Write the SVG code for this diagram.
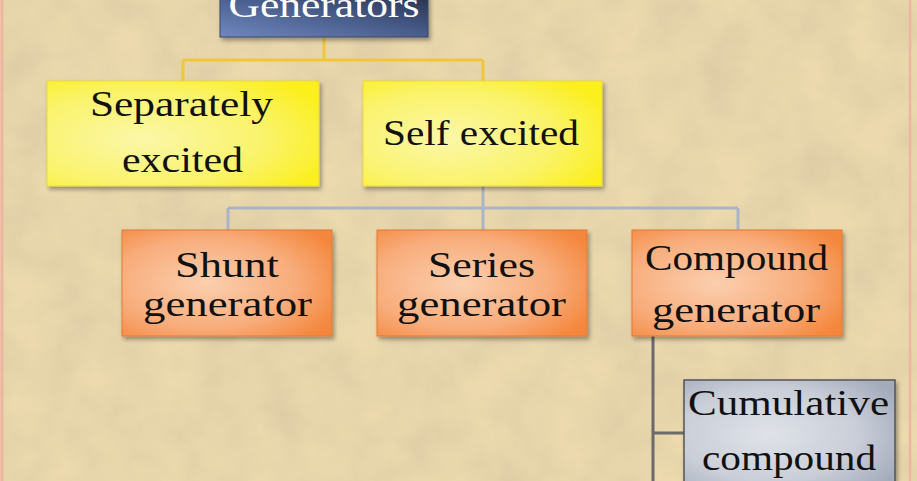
<svg xmlns="http://www.w3.org/2000/svg" width="917" height="481" viewBox="0 0 917 481">
<defs>
<style>
.t{font-family:"Liberation Serif","Times New Roman",serif;font-size:35px;fill:#111;text-anchor:middle}
.tw{fill:#ffffff}
.box{filter:url(#sh)}
</style>
<filter id="sh" x="-10%" y="-10%" width="125%" height="130%">
<feDropShadow dx="2" dy="3" stdDeviation="2" flood-color="#000" flood-opacity="0.35"/>
</filter>
<filter id="paper" x="0" y="0" width="100%" height="100%">
<feTurbulence type="fractalNoise" baseFrequency="0.02" numOctaves="4" seed="3" result="n"/>
<feColorMatrix in="n" type="matrix" values="0 0 0 0 0.55  0 0 0 0 0.45  0 0 0 0 0.3  0 0 0 0.55 -0.15"/>
</filter>
<linearGradient id="gBlue" x1="0" y1="1" x2="1" y2="0">
<stop offset="0" stop-color="#7088c0"/>
<stop offset="0.5" stop-color="#4a5f8e"/>
<stop offset="1" stop-color="#26324f"/>
</linearGradient>
<radialGradient id="gYel" cx="0.35" cy="0.55" r="0.75">
<stop offset="0" stop-color="#fbf7a8"/>
<stop offset="0.6" stop-color="#faf36a"/>
<stop offset="1" stop-color="#fbef1a"/>
</radialGradient>
<radialGradient id="gOr" cx="0.4" cy="0.5" r="0.7">
<stop offset="0" stop-color="#fbcfae"/>
<stop offset="0.6" stop-color="#f8ad7c"/>
<stop offset="1" stop-color="#f4873d"/>
</radialGradient>
<radialGradient id="gGr" cx="0.4" cy="0.5" r="0.7">
<stop offset="0" stop-color="#dfe2e8"/>
<stop offset="0.6" stop-color="#c9ced8"/>
<stop offset="1" stop-color="#a4abbb"/>
</radialGradient>
</defs>
<rect width="917" height="481" fill="#ecdaae"/>
<rect width="917" height="481" filter="url(#paper)"/>
<line x1="2" y1="0" x2="2" y2="481" stroke="#eeb5a0" stroke-width="3"/>
<line x1="910" y1="0" x2="910" y2="481" stroke="#eeb5a0" stroke-width="2.5"/>

<g id="connectors" fill="none">
<path d="M324 37V60M183 60H483M183 60V81M483 60V81" stroke="#f0c63a" stroke-width="3"/>
<path d="M483 186V208M228 208H738M228 208V230M483 208V230M738 208V230" stroke="#a9b4c8" stroke-width="3"/>
<path d="M653 336V481M653 433H684" stroke="#6b6b6b" stroke-width="3"/>
</g>

<g id="generators">
<rect class="box" x="220" y="-5" width="208" height="42" fill="url(#gBlue)" stroke="#3a4668" stroke-width="1"/>
<text class="t tw" x="324" y="17" textLength="191" lengthAdjust="spacingAndGlyphs">Generators</text>
</g>
<g id="separately">
<rect class="box" x="47" y="81" width="272" height="105" fill="url(#gYel)" stroke="#e8d840" stroke-width="1"/>
<text class="t" x="181.5" y="116" textLength="183" lengthAdjust="spacingAndGlyphs">Separately</text>
<text class="t" x="182.5" y="172" textLength="121" lengthAdjust="spacingAndGlyphs">excited</text>
</g>
<g id="self">
<rect class="box" x="363" y="81" width="239" height="105" fill="url(#gYel)" stroke="#e8d840" stroke-width="1"/>
<text class="t" x="481" y="145" textLength="196" lengthAdjust="spacingAndGlyphs">Self excited</text>
</g>
<g id="shunt">
<rect class="box" x="122" y="230" width="210" height="106" fill="url(#gOr)" stroke="#e07a35" stroke-width="1"/>
<text class="t" x="227" y="277" textLength="104" lengthAdjust="spacingAndGlyphs">Shunt</text>
<text class="t" x="227.5" y="316" textLength="169" lengthAdjust="spacingAndGlyphs">generator</text>
</g>
<g id="series">
<rect class="box" x="377" y="230" width="210" height="106" fill="url(#gOr)" stroke="#e07a35" stroke-width="1"/>
<text class="t" x="481.5" y="277" textLength="107" lengthAdjust="spacingAndGlyphs">Series</text>
<text class="t" x="481.5" y="316" textLength="169" lengthAdjust="spacingAndGlyphs">generator</text>
</g>
<g id="compound">
<rect class="box" x="632" y="230" width="210" height="106" fill="url(#gOr)" stroke="#e07a35" stroke-width="1"/>
<text class="t" x="736.5" y="270" textLength="183" lengthAdjust="spacingAndGlyphs">Compound</text>
<text class="t" x="736" y="322" textLength="168" lengthAdjust="spacingAndGlyphs">generator</text>
</g>
<g id="cumulative">
<rect class="box" x="684" y="380" width="211" height="110" fill="url(#gGr)" stroke="#555" stroke-width="1.5"/>
<text class="t" x="788.5" y="415" textLength="201" lengthAdjust="spacingAndGlyphs">Cumulative</text>
<text class="t" x="789" y="470" textLength="174" lengthAdjust="spacingAndGlyphs">compound</text>
</g>
</svg>
